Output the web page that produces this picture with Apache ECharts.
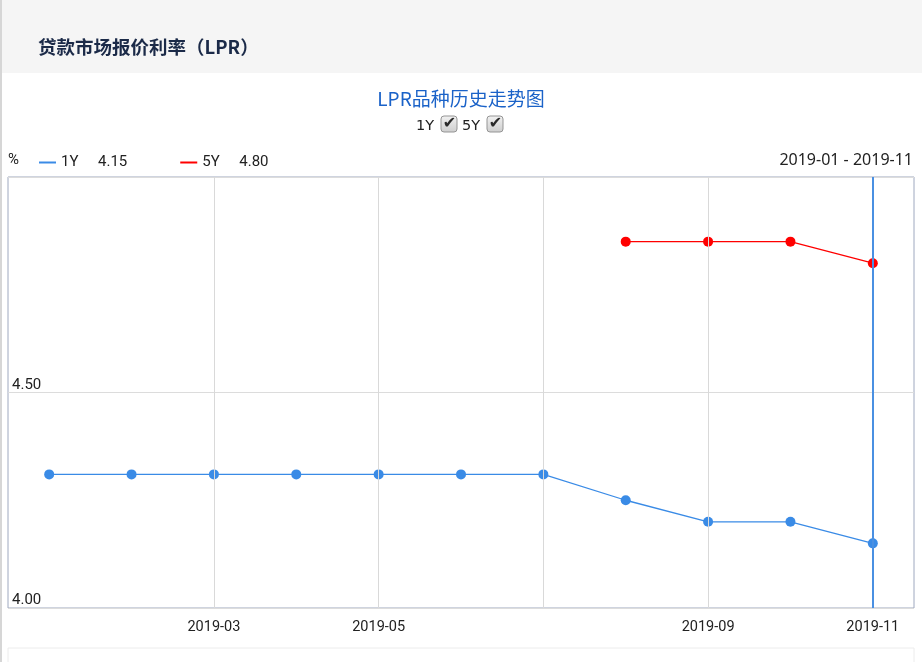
<!DOCTYPE html>
<html>
<head>
<meta charset="utf-8">
<script src="https://cdn.jsdelivr.net/npm/echarts@6/dist/echarts.min.js"></script>
<style>
html,body{margin:0;padding:0;background:#fff;}
#c{width:922px;height:662px;}
</style>
</head>
<body>
<div id="c"></div>
<script>
// ---- data ----
const months = ['2019-01','2019-02','2019-03','2019-04','2019-05','2019-06','2019-07','2019-08','2019-09','2019-10','2019-11'];
const lpr1Y = [4.31,4.31,4.31,4.31,4.31,4.31,4.31,4.25,4.20,4.20,4.15];
const lpr5Y = [null,null,null,null,null,null,null,4.85,4.85,4.85,4.80];
const xTickLabels = ['2019-03','2019-05','2019-09','2019-11'];
const xGridMonths = ['2019-03','2019-05','2019-07','2019-09'];
const cursorMonth = '2019-11';
const yTicks = [4.00, 4.50];

const FONT = 'Roboto, "Noto Sans CJK SC", sans-serif';
const CJK = '"Noto Sans CJK SC", "Noto Sans", sans-serif';
const lastVal = a => { for (let i=a.length-1;i>=0;i--) if (a[i]!=null) return a[i]; return null; };

const chart = echarts.init(document.getElementById('c'), null, {renderer:'canvas'});

function checkbox(x, y) {
  return {
    type:'group', x:x, y:y, children:[
      {type:'rect', shape:{x:0,y:0,width:16,height:16,r:3},
       style:{fill:new echarts.graphic.LinearGradient(0,0,0,1,[{offset:0,color:'#f2f2f2'},{offset:1,color:'#cdcdcd'}]), stroke:'#959595', lineWidth:1}},
      {type:'text', style:{text:'✔', x:8.5, y:8, align:'center', verticalAlign:'middle', fontSize:16, fontWeight:'bold', fill:'#2a2a2a', fontFamily:'"DejaVu Sans", sans-serif'}}
    ]
  };
}

const option = {
  backgroundColor:'#fff',
  animation:false,
  graphic:[
    {type:'rect', z:-10, shape:{x:0,y:0,width:922,height:73}, style:{fill:'#f5f5f5'}},
    {type:'rect', z:-5, shape:{x:0,y:0,width:2,height:662}, style:{fill:'#d6d6d6'}},
    {type:'rect', z:-5, shape:{x:8,y:648,width:906,height:30}, style:{fill:'#fff', stroke:'#ececec', lineWidth:1}},
    {type:'text', style:{text:'贷款市场报价利率（LPR）', x:38, y:47, verticalAlign:'middle', fontSize:18.5, fontWeight:'bold', fill:'#1b2a48', fontFamily:CJK}},
    {type:'text', style:{text:'LPR品种历史走势图', x:461, y:99, align:'center', verticalAlign:'middle', fontSize:19, fill:'#1a62c8', fontFamily:CJK}},
    {type:'text', style:{text:'1Y', x:425, y:126, align:'center', verticalAlign:'middle', fontSize:14.5, fill:'#222', fontFamily:'"DejaVu Sans", sans-serif'}},
    checkbox(441, 116),
    {type:'text', style:{text:'5Y', x:471, y:126, align:'center', verticalAlign:'middle', fontSize:14.5, fill:'#222', fontFamily:'"DejaVu Sans", sans-serif'}},
    checkbox(487, 116),
    {type:'text', style:{text:'%', x:8, y:160, verticalAlign:'middle', fontSize:15, fill:'#222', fontFamily:FONT}},
    {type:'text', style:{text:months[0]+' - '+months[months.length-1], x:913, y:160, align:'right', verticalAlign:'middle', fontSize:16, fill:'#222', fontFamily:'"Noto Sans", sans-serif'}}
  ],
  legend:{
    left:39, top:155, padding:0, itemWidth:17, itemHeight:2, itemGap:53, icon:'rect',
    selectedMode:false,
    textStyle:{fontSize:15, color:'#222', fontFamily:FONT,
      rich:{n:{width:37, fontSize:15, color:'#222', fontFamily:FONT}, v:{fontSize:15, color:'#222', fontFamily:FONT}}},
    formatter: name => '{n|' + name + '}{v|' + (name==='1Y' ? lastVal(lpr1Y) : lastVal(lpr5Y)).toFixed(2) + '}',
    data:['1Y','5Y']
  },
  grid:{left:8, right:8, top:177, bottom:54, show:true, borderColor:'#9ea8bf', borderWidth:1, containLabel:false},
  xAxis:{
    type:'category', data:months, boundaryGap:true,
    axisLine:{show:false}, axisTick:{show:false}, splitLine:{show:false},
    axisLabel:{interval:(i,v)=>xTickLabels.includes(v), fontSize:14.5, color:'#222', margin:12, fontFamily:FONT}
  },
  yAxis:{
    type:'value', min:4, max:5, interval:0.5,
    axisLine:{show:false}, axisTick:{show:false},
    splitLine:{show:true, lineStyle:{color:'#dcdcdc', width:1}},
    axisLabel:{inside:true, margin:4, verticalAlign:'bottom', fontSize:15, color:'#222', fontFamily:FONT,
      formatter: v => yTicks.some(t=>Math.abs(t-v)<1e-9) ? v.toFixed(2) : ''}
  },
  series:[
    {
      name:'1Y', type:'line', data:lpr1Y, symbol:'circle', symbolSize:10, showSymbol:true,
      itemStyle:{color:'#3a8be6'}, lineStyle:{color:'#3a8be6', width:1.3},
      markLine:{
        silent:true, symbol:'none', label:{show:false}, animation:false,
        data:[
          ...xGridMonths.map(m=>({xAxis:m, lineStyle:{color:'#d9d9d9', width:1, type:'solid'}})),
          {xAxis:cursorMonth, lineStyle:{color:'#4a90e2', width:2, type:'solid'}}
        ]
      },
      z:3
    },
    {
      name:'5Y', type:'line', data:lpr5Y, symbol:'circle', symbolSize:10, showSymbol:true,
      itemStyle:{color:'#ff0000'}, lineStyle:{color:'#ff0000', width:1.3}, z:3
    }
  ]
};
chart.setOption(option);
</script>
</body>
</html>
